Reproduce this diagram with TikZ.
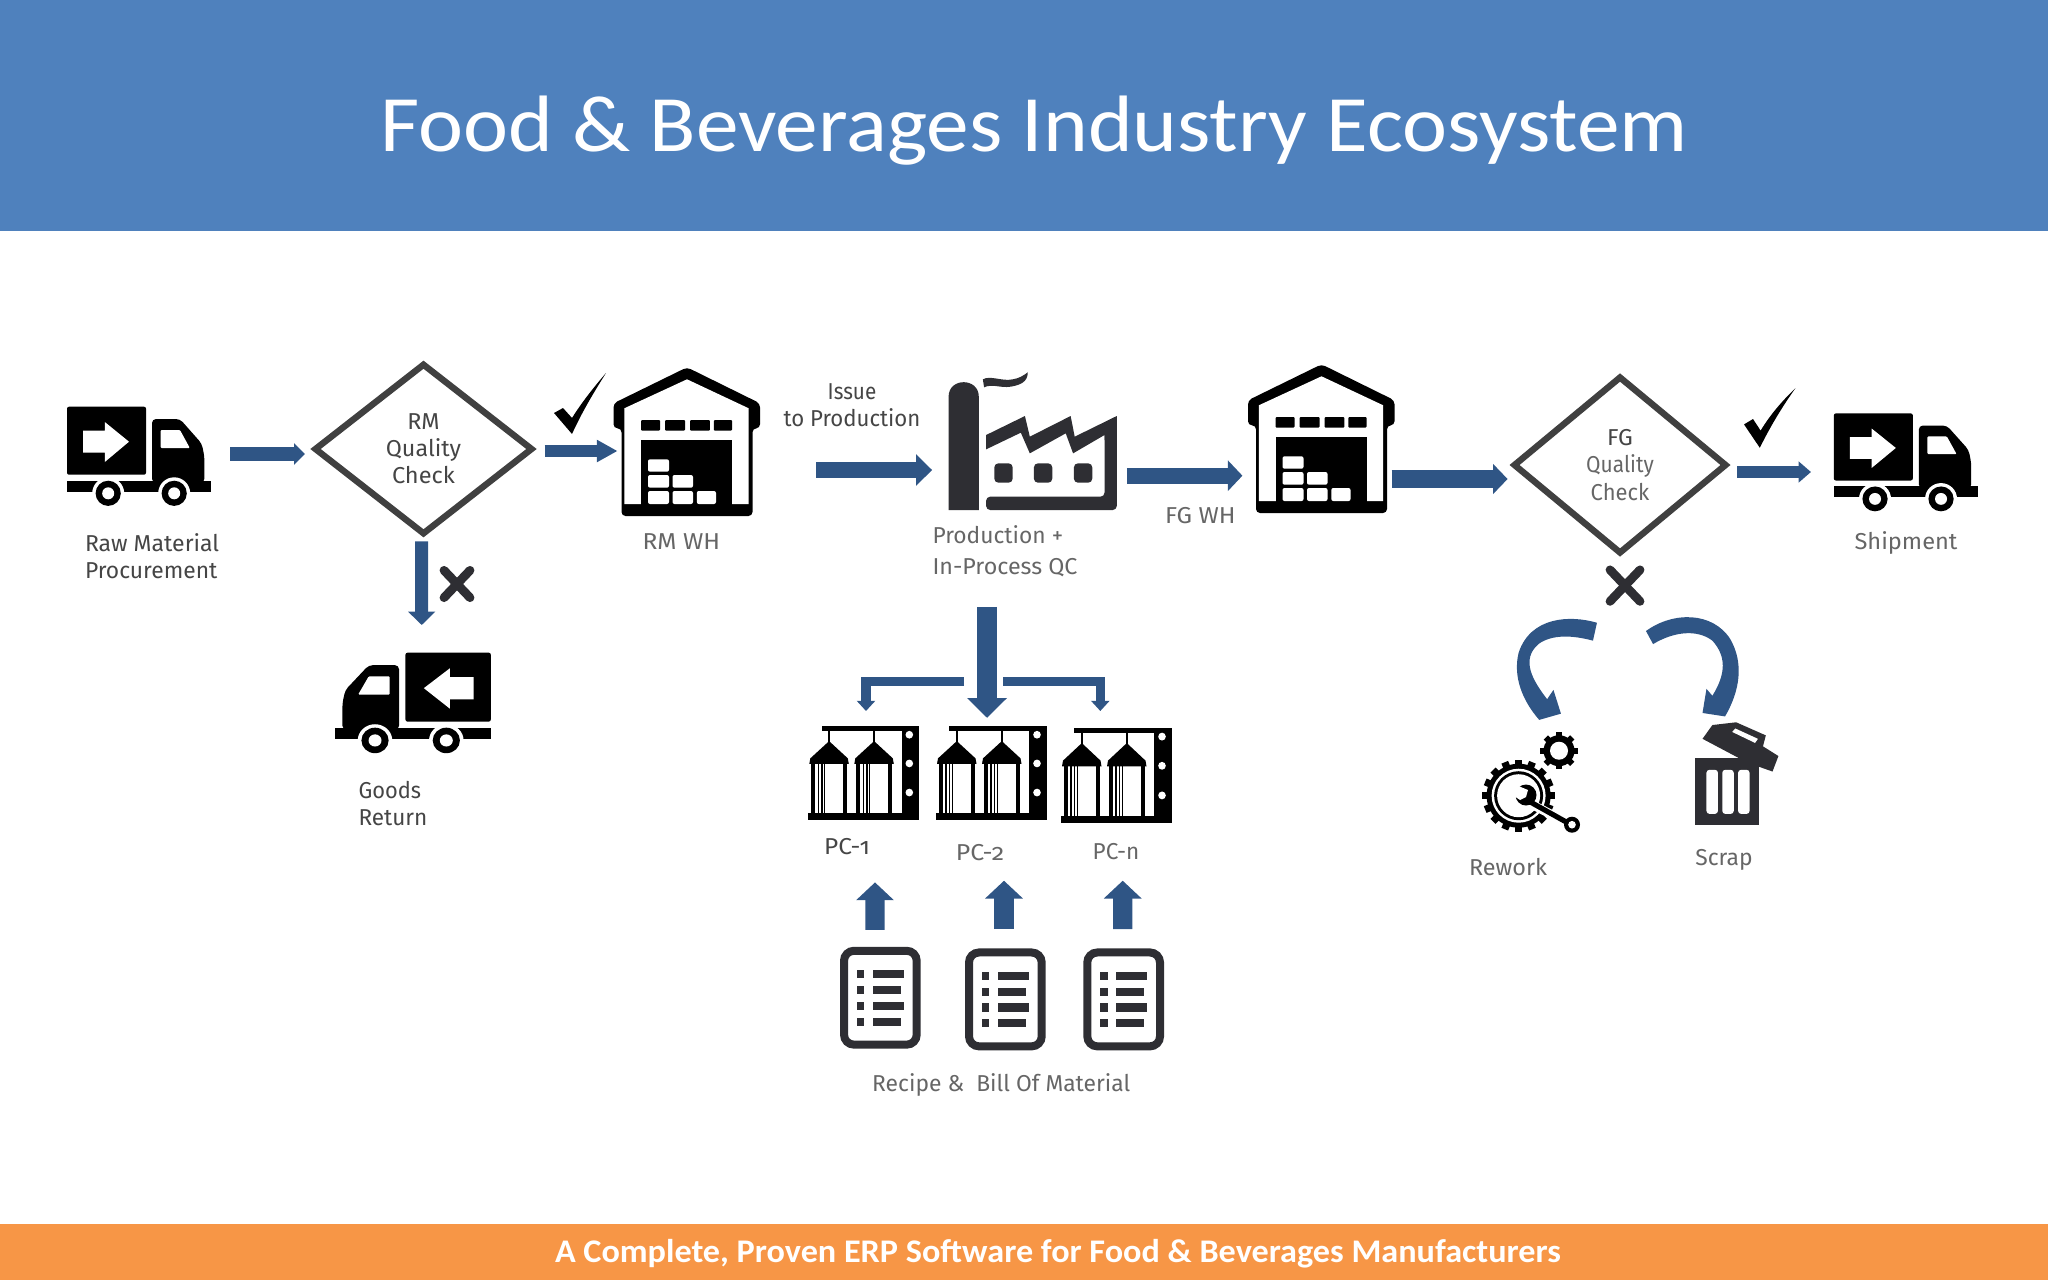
\documentclass[tikz,border=0pt]{standalone}
\usepackage{fontspec}
\usepackage{graphicx}
\usetikzlibrary{arrows.meta,shapes.geometric,calc}
\setmainfont{Fira Sans}
\newfontfamily\titlefont{Carlito}
\definecolor{hdr}{HTML}{4F81BD}
\definecolor{ftr}{HTML}{F79646}
\definecolor{flowc}{HTML}{2F5585}
\definecolor{dk}{HTML}{2E2E33}
\definecolor{dia}{HTML}{404040}
\definecolor{txta}{HTML}{454545}
\definecolor{txtb}{HTML}{666666}
\newcommand\fitw[2]{\resizebox{#1pt}{\height}{#2}}
\tikzset{
  iconbox/.style 2 args={inner sep=0pt,outer sep=0pt,minimum width=#1*0.5pt,minimum height=#2*0.5pt},
  flow/.style n args={3}{draw=flowc,line width=#1,-{Triangle[length=#2,width=#3]},line cap=butt},
  qdiamond/.style={diamond,draw=dia,line width=3.2pt,inner sep=0pt,outer sep=0pt,
    align=center,font=\fontsize{11.5}{13.6}\selectfont,text=txta},
  lbl/.style={inner sep=0pt,outer sep=0pt,font=\fontsize{11.5}{13.5}\selectfont,text=txtb,anchor=base},
  lblm/.style={inner sep=0pt,outer sep=0pt,font=\fontsize{11.5}{13.5}\selectfont,text=txta,align=left},
  pics/truck/.style={code={
    \fill[black,rounded corners=1pt] (0,0) rectangle (79,68);
    \fill[white] (16,24) -- (37.8,24) -- (37.8,15.3) -- (62,35) -- (37.8,55.3) -- (37.8,46) -- (16,46) -- cycle;
    \fill[black,rounded corners=2pt] (85,76) -- (85,12.3) -- (113,12.3) -- (134.8,37) -- (137.4,50) -- (137.4,76) -- cycle;
    \fill[white,rounded corners=.5pt] (93.6,23.3) -- (113,23.3) -- (122.8,41.3) -- (93.6,41.3) -- cycle;
    \fill[black] (0,74) rectangle (144.4,85);
    \foreach \c in {41.2,107.2}{
      \fill[white] (\c,86.6) circle[radius=16];
      \fill[black] (\c,86.6) circle[radius=12.6];
      \fill[white] (\c,86.6) circle[radius=6];
    }
  }},
  pics/whouse/.style={code={
    \fill[black,rounded corners=2pt] (73.5,0) -- (146.5,36) -- (146.5,61) -- (139,61) -- (139,148.7) -- (8,148.7) -- (8,61) -- (0,61) -- (0,36) -- cycle;
    \fill[white] (73.5,12) -- (135.2,41) -- (135.2,136.7) -- (10.8,136.7) -- (10.8,41) -- cycle;
    \fill[black] (27.5,72.7) rectangle (118.5,140);
    \foreach \a/\b in {27.5/46.5,51.5/71.5,76.5/96.3,100.3/118.5}{\fill[black,rounded corners=.5pt] (\a,52.7) rectangle (\b,63.4);}
    \foreach \a/\b/\c/\d in {34.5/55.5/92/104.4,34.5/55.5/107.7/120.4,59/79.5/107.7/120.4,34.5/55.5/123.7/136.7,59/79.5/123.7/136.7,83.3/102.5/123.7/136.7}{
      \fill[white,rounded corners=1pt] (\a,\c) rectangle (\b,\d);}
  }},
  pics/silo/.style={code={
    \fill[black] (13.3,0) rectangle (110,5.3);
    \fill[black] (93.3,0) rectangle (110.5,92.7);
    \foreach \q in {8.7,37,65.7}{\fill[white] (101,\q) circle[radius=3.8];}
    \fill[black] (0,86) rectangle (111,92.7);
    \foreach \d in {0,45}{
      \fill[black] (\d+19.8,5) rectangle (\d+21.8,17);
      \fill[black] (\d+20.8,15) -- (\d+39.5,32) -- (\d+40.5,37.5) -- (\d+1,37.5) -- (\d+2,32) -- cycle;
      \fill[black] (\d+2.7,37) rectangle (\d+6.7,86);
      \fill[black] (\d+9.2,37) rectangle (\d+10.7,86);
      \fill[black] (\d+12.7,37) rectangle (\d+14.2,86);
      \fill[black] (\d+16,37) rectangle (\d+17,86);
      \fill[black] (\d+35,37) rectangle (\d+38.5,86);
    }
  }},
  pics/recipe/.style={code={
    \draw[dk,line width=4pt,rounded corners=5pt] (4,4) rectangle (76.7,96.6);
    \foreach \a/\b/\e in {23.3/31.3/64,39/46.7/60.7,54.3/62.3/64,70/77.7/60.7}{
      \fill[dk] (16.7,\a) rectangle (24.3,\b);
      \fill[dk] (32.7,\a) rectangle (\e,\b);
    }
  }},
  pics/xmark/.style={code={
    \draw[dk,line width=4.4pt,line cap=round] (-#1,-#1*1.05) -- (#1,#1*1.05);
    \draw[dk,line width=4.4pt,line cap=round] (#1,-#1*1.05) -- (-#1,#1*1.05);
  }},
}
\begin{document}
\begin{tikzpicture}[x=0.5pt,y=-0.5pt]
\useasboundingbox (0,0) rectangle (2048,1280);
% bands
\fill[hdr] (0,0) rectangle (2048,231);
\fill[ftr] (0,1224) rectangle (2048,1280);
\node[inner sep=0pt,text=white,font=\titlefont\fontsize{40}{46}\selectfont] (title) at (1034,131) {\fitw{653.5}{Food \& Beverages Industry Ecosystem}};
\node[inner sep=0pt,text=white,font=\titlefont\bfseries\fontsize{16.5}{20}\selectfont] (footer) at (1058,1254) {\fitw{503}{A Complete, Proven ERP Software for Food \& Beverages Manufacturers}};

% icon boxes
\node[iconbox={144.4}{99.3}] (truck1) at (139.8,456.3) {};
\pic at (67,406.7) {truck};
\node[iconbox={146.5}{148.7}] (rmwh) at (686.75,441.65) {};
\pic at (613.5,367.3) {whouse};
\node[iconbox={146.5}{148.7}] (fgwh) at (1321.25,438.65) {};
\pic at (1248,364.3) {whouse};
\node[iconbox={156}{100.6}] (truck2) at (412.75,703) {};
\pic[xscale=-1.08,yscale=1.013] at (490.8,652.7) {truck};
\node[iconbox={145.5}{98}] (ship) at (1906.5,462.5) {};
\pic[yscale=0.987] at (1833.8,413.4) {truck};
\node[iconbox={168}{138}] (factory) at (1032.65,441) {};
\node[iconbox={111}{94}] (pc1) at (863.8,772.9) {};
\pic[yscale=1.014] at (808.3,725.9) {silo};
\node[iconbox={111}{94}] (pc2) at (991.65,772.9) {};
\pic[yscale=1.014] at (936,725.9) {silo};
\node[iconbox={111}{95.7}] (pcn) at (1116.65,775.45) {};
\pic[yscale=1.032] at (1061,727.6) {silo};
\node[iconbox={80.7}{102}] (doc1) at (880.35,997.7) {};
\pic[yscale=1.014] at (840,946.7) {recipe};
\node[iconbox={80.7}{102}] (doc2) at (1005.35,999.4) {};
\pic[yscale=1.014] at (965,948.4) {recipe};
\node[iconbox={80.7}{102}] (docn) at (1123.65,999.4) {};
\pic[yscale=1.014] at (1083.3,948.4) {recipe};

% factory
\begin{scope}[shift={(780,340)},x=0.20408pt,y=-0.16667pt]
\fill[dk] (413,510) -- (413,170) .. controls (413,112) and (487,112) .. (487,170) -- (487,510) -- cycle;
\fill[dk] (497,118) .. controls (515,105) and (545,125) .. (570,118) .. controls (585,115) and (595,108) .. (607,97) .. controls (607,125) and (590,135) .. (565,140) .. controls (540,145) and (520,130) .. (500,142) -- cycle;
\fill[dk,rounded corners=2pt] (505,470) -- (795,470) -- (795,270) -- (825,270) -- (825,510) -- (505,510) -- cycle;
\fill[dk] (505,285) -- (600,228) -- (612,290) -- (712,228) -- (722,290) -- (825,228) -- (825,300) -- (795,300) -- (795,285) -- (718,340) -- (700,280) -- (612,340) -- (590,278) -- (505,328) -- cycle;
\foreach \a in {525,622,720}{\fill[dk,rounded corners=2pt] (\a,370) rectangle (\a+45,428);}
\end{scope}

% diamonds
\node[qdiamond,minimum width=108pt,minimum height=84.3pt] (rmq) at (423.5,449) {\fitw{16.2}{RM}\\\fitw{37.6}{Quality}\\\fitw{31.5}{Check}};
\node[qdiamond,minimum width=105.5pt,minimum height=87.5pt] (fgq) at (1620,465) {\fitw{12.9}{FG}\\\textcolor{txtb}{\fitw{33.8}{Quality}}\\\textcolor{txtb}{\fitw{29.3}{Check}}};

% ticks and crosses
\fill[black] (554,413) -- (563,408) -- (572,418) .. controls (582,402) and (594,387) .. (606,373) .. controls (594,392) and (582,412) .. (572,434) -- cycle;
\fill[black] (1744,424.4) -- (1753,419) -- (1760.6,430.6) .. controls (1770,415) and (1782,401) .. (1795.4,388.2) .. controls (1782,407) and (1770,427) .. (1759.8,447.8) -- cycle;
\pic at (457,584) {xmark=13};
\pic at (1625,585.6) {xmark=15};

% connectors
\draw[flow={6.7pt}{5.5pt}{10.5pt}] ([shift={(18,-2.3)}]truck1.east) -- ([shift={(-10.5,5)}]rmq.west);
\draw[flow={6.2pt}{10.3pt}{10.5pt}] ([shift={(13,2)}]rmq.east) -- ([shift={(4,9.35)}]rmwh.west);
\draw[flow={6.5pt}{6.7pt}{13.3pt}] ([shift={(-2,8)}]rmq.south) -- ([shift={(9,-27.7)}]truck2.north);
\draw[flow={8.3pt}{8pt}{15.4pt}] ([shift={(56,28.35)}]rmwh.east) -- ([shift={(-16.6,29)}]factory.west);
\draw[flow={7.8pt}{7.3pt}{15pt}] ([shift={(10.3,34.7)}]factory.east) -- ([shift={(-5.6,37.05)}]fgwh.west);
\draw[flow={9pt}{7.3pt}{14.7pt}] ([shift={(-3,40.35)}]fgwh.east) -- ([shift={(-6.9,14)}]fgq.west);
\draw[flow={6pt}{6.2pt}{10.3pt}] ([shift={(11.5,7)}]fgq.east) -- ([shift={(-22.8,9.5)}]ship.west);
\draw[flow={9.7pt}{9.9pt}{19.4pt}] ([shift={(-45.65,96.9)}]factory.south) -- ([shift={(-4.65,-8.1)}]pc2.north);
\draw[flow={4.7pt}{5.1pt}{9pt}] ([shift={(-68.65,171.6)}]factory.south) -| ([shift={(2.2,-14.9)}]pc1.north);
\draw[flow={4.7pt}{5.1pt}{9pt}] ([shift={(-29.35,171.6)}]factory.south) -| ([shift={(-16.35,-16.6)}]pcn.north);
\draw[flow={9.7pt}{8.9pt}{18.4pt}] ([shift={(-5.35,-16.9)}]doc1.north) -- ([shift={(11.2,62.5)}]pc1.south);
\draw[flow={9.7pt}{8.9pt}{18.4pt}] ([shift={(-1.35,-19.4)}]doc2.north) -- ([shift={(12.35,60.8)}]pc2.south);
\draw[flow={9.7pt}{8.9pt}{18.4pt}] ([shift={(-0.95,-19.4)}]docn.north) -- ([shift={(6.05,57.4)}]pcn.south);

% curved arrows, scrap
\begin{scope}[shift={(1400,360)},x=0.19771pt,y=-0.17218pt]
\fill[flowc] (498,763) .. controls (430,740) and (330,745) .. (300,850) .. controls (285,920) and (310,990) .. (352,1045) -- (407,1027) -- (388,958) -- (372,985) .. controls (335,930) and (305,870) .. (350,825) .. controls (385,795) and (440,800) .. (488,815) -- cycle;
\fill[flowc] (622,787) .. controls (690,730) and (790,730) .. (835,810) .. controls (870,880) and (860,960) .. (822,1035) -- (765,1025) -- (775,955) -- (790,975) .. controls (825,910) and (825,860) .. (790,815) .. controls (750,780) and (690,790) .. (640,825) -- cycle;
\fill[dk] (747,1155) rectangle (908,1350);
\foreach \a in {775,815,855}{\fill[white,rounded corners=1.5pt] (\a,1190) rectangle (\a+29,1318);}
\fill[dk] (765,1100) -- (790,1060) -- (850,1052) -- (925,1090) -- (918,1122) -- (957,1150) -- (942,1195) -- (880,1170) -- cycle;
\fill[white] (840,1080) -- (848,1070) -- (905,1100) -- (898,1112) -- cycle;
\end{scope}
% rework
\begin{scope}[shift={(0,14)}]
\foreach \a in {0,22.5,...,337.5}{\fill[black,rotate around={\a:(1518.6,781.7)}] (1515,745.5) rectangle (1522.2,781.7);}
\fill[black] (1518.6,781.7) circle[radius=32];
\fill[white] (1518.6,781.7) circle[radius=27];
\fill[black] (1518.6,781.7) circle[radius=24.5];
\fill[white] (1518.6,781.7) circle[radius=21.5];
\draw[white,line width=4.5pt] (1535,792) -- (1566,808);
\draw[black,line width=2.6pt] (1525,785) -- (1568,809);
\fill[black] (1526,781) circle[radius=10.5];
\fill[white] (1516,771) -- (1528,776) -- (1526,783) -- (1520,786) -- (1511,780) -- cycle;
\fill[black] (1572,810.7) circle[radius=8];
\fill[white] (1572,810.7) circle[radius=3.8];
\foreach \a in {0,45,...,315}{\fill[black,rotate around={\a:(1559,736.7)}] (1556,718) rectangle (1562,736.7);}
\fill[black] (1559,736.7) circle[radius=15.5];
\fill[white] (1559,736.7) circle[radius=9];
\end{scope}

% labels
\node[lblm,anchor=west] (lraw) at (85,556) {\fitw{67.1}{Raw Material}\\\fitw{66.2}{Procurement}};
\node[lbl] (lrmwh) at (681.3,549) {\fitw{38.8}{RM WH}};
\node[lblm,anchor=west] (lgoods) at (358.5,803) {\fitw{31.3}{Goods}\\\fitw{34.4}{Return}};
\node[lblm,align=center] (lissue) at (852,405) {\fitw{24.3}{Issue}\\\fitw{68.4}{to Production}};
\node[lblm,anchor=west,text=txtb,font=\fontsize{11.5}{15.3}\selectfont] (lprod) at (932.5,551.5) {\fitw{65.3}{Production +}\\\fitw{72.5}{In-Process QC}};
\node[lbl] (lfg) at (1200.3,523.5) {\fitw{35.3}{FG WH}};
\node[lbl] (lship) at (1906,549) {\fitw{51.5}{Shipment}};
\node[lbl] (lrew) at (1508,875.5) {\fitw{39}{Rework}};
\node[lbl] (lscr) at (1724,865) {\fitw{28.7}{Scrap}};
\node[lbl,text=txta] (lpc1) at (847,854) {\addfontfeature{Numbers=OldStyle}\fitw{22.9}{PC-1}};
\node[lbl] (lpc2) at (980,860.5) {\addfontfeature{Numbers=OldStyle}\fitw{24.2}{PC-2}};
\node[lbl] (lpcn) at (1116,859.5) {\fitw{23.3}{PC-n}};
\node[lbl] (lrec) at (1001.2,1091) {\fitw{129}{Recipe \&\ \ Bill Of Material}};
\end{tikzpicture}
\end{document}
